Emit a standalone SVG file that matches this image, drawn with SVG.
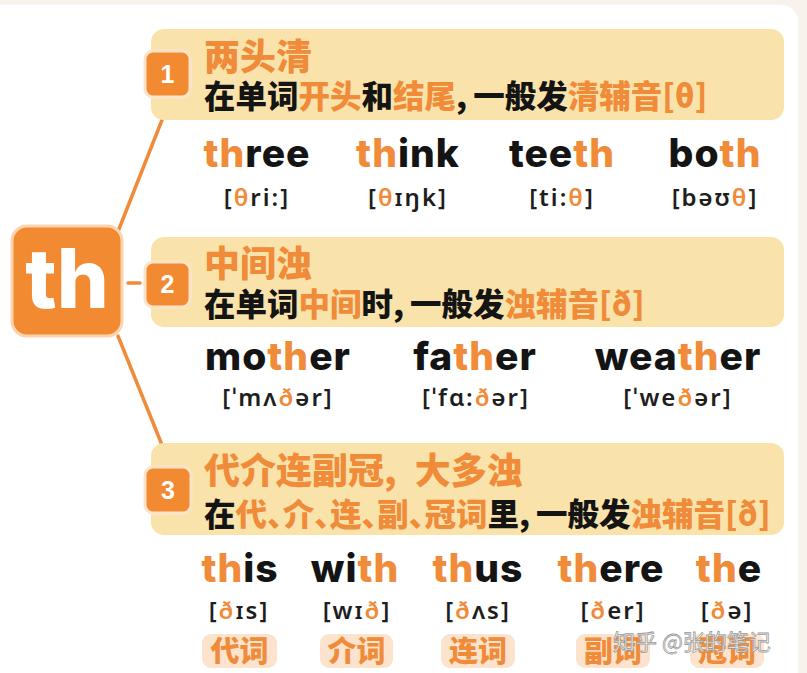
<svg xmlns="http://www.w3.org/2000/svg" width="807" height="673" viewBox="0 0 807 673">
<style>
.cn{font-family:"Noto Sans CJK SC","Noto Sans",sans-serif;font-weight:900}
.title{font-size:36px;fill:#f08b3a}
.sub{font-size:31.5px;fill:#141414}
.halt{font-feature-settings:"halt" 1}
.o{fill:#f08b3a}
.k{fill:#141414}
.word{font-family:"Inter","Open Sans",sans-serif;font-weight:800;font-size:39px;letter-spacing:1px;fill:#141414;text-anchor:middle}
.ipa{font-family:"Noto Sans","DejaVu Sans",sans-serif;font-weight:600;font-size:24px;letter-spacing:2px;fill:#1e1e1e;text-anchor:middle}
.panel{fill:#fae3aa}
.badge{fill:#f28a32;stroke:#fde3c8;stroke-width:3}
.num{font-family:"Liberation Sans",sans-serif;font-weight:700;font-size:25px;fill:#fff;text-anchor:middle}
.tag{fill:#fbe3cd}
.tagt{font-family:"Noto Sans CJK SC",sans-serif;font-weight:900;font-size:29px;fill:#f08b3a;text-anchor:middle}
.conn{stroke:#f08b3a;stroke-width:3.5;fill:none;stroke-linecap:round}
</style>
<rect x="0" y="0" width="807" height="673" fill="#f7f3ec"/>
<rect x="-20" y="5" width="818" height="700" rx="16" fill="#ffffff"/>

<g id="connectors">
<line class="conn" x1="119" y1="229" x2="162" y2="120"/>
<line class="conn" x1="128" y1="283" x2="140" y2="283"/>
<line class="conn" x1="118" y1="336" x2="162" y2="445"/>
</g>

<g id="root">
<rect x="12" y="226" width="110" height="110" rx="15" fill="#f28a32" stroke="#fbd3ad" stroke-width="3"/>
<text x="67" y="308" font-family="Inter,'Open Sans',sans-serif" font-weight="800" font-size="82" fill="#ffffff" text-anchor="middle">th</text>
</g>

<g id="rule1">
<rect class="panel" x="151" y="29" width="633" height="91" rx="13"/>
<rect class="badge" x="145" y="51" width="45" height="46" rx="8"/>
<text class="num" x="167.5" y="83">1</text>
<text class="cn title" x="204" y="70">两头清</text>
<text class="cn sub" x="204" y="108"><tspan class="k">在单词</tspan><tspan class="o">开头</tspan><tspan class="k">和</tspan><tspan class="o">结尾</tspan><tspan class="k">,</tspan><tspan class="k" dx="6">一般发</tspan><tspan class="o">清辅音[θ]</tspan></text>
</g>

<g id="words1">
<text class="word" x="257" y="167"><tspan class="o">th</tspan>ree</text>
<text class="word" x="408" y="167"><tspan class="o">th</tspan>ink</text>
<text class="word" x="562" y="167">tee<tspan class="o">th</tspan></text>
<text class="word" x="715" y="167">bo<tspan class="o">th</tspan></text>
<text class="ipa" x="257" y="206">[<tspan class="o">θ</tspan>ri:]</text>
<text class="ipa" x="408" y="206">[<tspan class="o">θ</tspan>ɪŋk]</text>
<text class="ipa" x="562" y="206">[ti:<tspan class="o">θ</tspan>]</text>
<text class="ipa" x="715" y="206">[bəʊ<tspan class="o">θ</tspan>]</text>
</g>

<g id="rule2">
<rect class="panel" x="151" y="237" width="633" height="90" rx="13"/>
<rect class="badge" x="145" y="262" width="45" height="45" rx="8"/>
<text class="num" x="167.5" y="293">2</text>
<text class="cn title" x="204" y="277">中间浊</text>
<text class="cn sub" x="204" y="316"><tspan class="k">在单词</tspan><tspan class="o">中间</tspan><tspan class="k">时,</tspan><tspan class="k" dx="6">一般发</tspan><tspan class="o">浊辅音[ð]</tspan></text>
</g>

<g id="words2">
<text class="word" x="278" y="370">mo<tspan class="o">th</tspan>er</text>
<text class="word" x="475" y="370">fa<tspan class="o">th</tspan>er</text>
<text class="word" x="678" y="370">wea<tspan class="o">th</tspan>er</text>
<text class="ipa" x="278" y="406">[ˈmʌ<tspan class="o">ð</tspan>ər]</text>
<text class="ipa" x="476" y="406">[ˈfɑ:<tspan class="o">ð</tspan>ər]</text>
<text class="ipa" x="678" y="406">[ˈwe<tspan class="o">ð</tspan>ər]</text>
</g>

<g id="rule3">
<rect class="panel" x="151" y="443" width="633" height="92" rx="13"/>
<rect class="badge" x="145" y="467" width="46" height="46" rx="8"/>
<text class="num" x="168" y="499">3</text>
<text class="cn title" x="204" y="484"><tspan>代介连副冠,</tspan><tspan dx="18">大多浊</tspan></text>
<text class="cn sub halt" x="204" y="526" font-size="30.5"><tspan class="k">在</tspan><tspan class="o">代、介、连、副、冠词</tspan><tspan class="k">里,</tspan><tspan class="k" dx="6">一般发</tspan><tspan class="o">浊辅音[ð]</tspan></text>
</g>

<g id="words3">
<text class="word" x="240" y="582"><tspan class="o">th</tspan>is</text>
<text class="word" x="355" y="582">wi<tspan class="o">th</tspan></text>
<text class="word" x="478" y="582"><tspan class="o">th</tspan>us</text>
<text class="word" x="611" y="582"><tspan class="o">th</tspan>ere</text>
<text class="word" x="729" y="582"><tspan class="o">th</tspan>e</text>
<text class="ipa" x="239" y="619">[<tspan class="o">ð</tspan>ɪs]</text>
<text class="ipa" x="357" y="619">[wɪ<tspan class="o">ð</tspan>]</text>
<text class="ipa" x="478" y="619">[<tspan class="o">ð</tspan>ʌs]</text>
<text class="ipa" x="613" y="619">[<tspan class="o">ð</tspan>er]</text>
<text class="ipa" x="727" y="619">[<tspan class="o">ð</tspan>ə]</text>
</g>

<g id="tags">
<rect class="tag" x="202" y="634" width="75" height="34" rx="9"/>
<text class="tagt" x="239.5" y="662">代词</text>
<rect class="tag" x="320" y="634" width="73" height="34" rx="9"/>
<text class="tagt" x="356.5" y="662">介词</text>
<rect class="tag" x="441" y="634" width="74" height="34" rx="9"/>
<text class="tagt" x="478" y="662">连词</text>
<rect class="tag" x="576" y="634" width="74" height="34" rx="9"/>
<text class="tagt" x="613" y="662">副词</text>
<rect class="tag" x="690" y="634" width="74" height="34" rx="9"/>
<text class="tagt" x="727" y="662">冠词</text>
</g>

<text x="613" y="650" font-family="'Noto Sans CJK SC',sans-serif" font-size="22" fill="#ffffff" stroke="#9a9a9a" stroke-width="0.8">知乎 @张的笔记</text>
</svg>
